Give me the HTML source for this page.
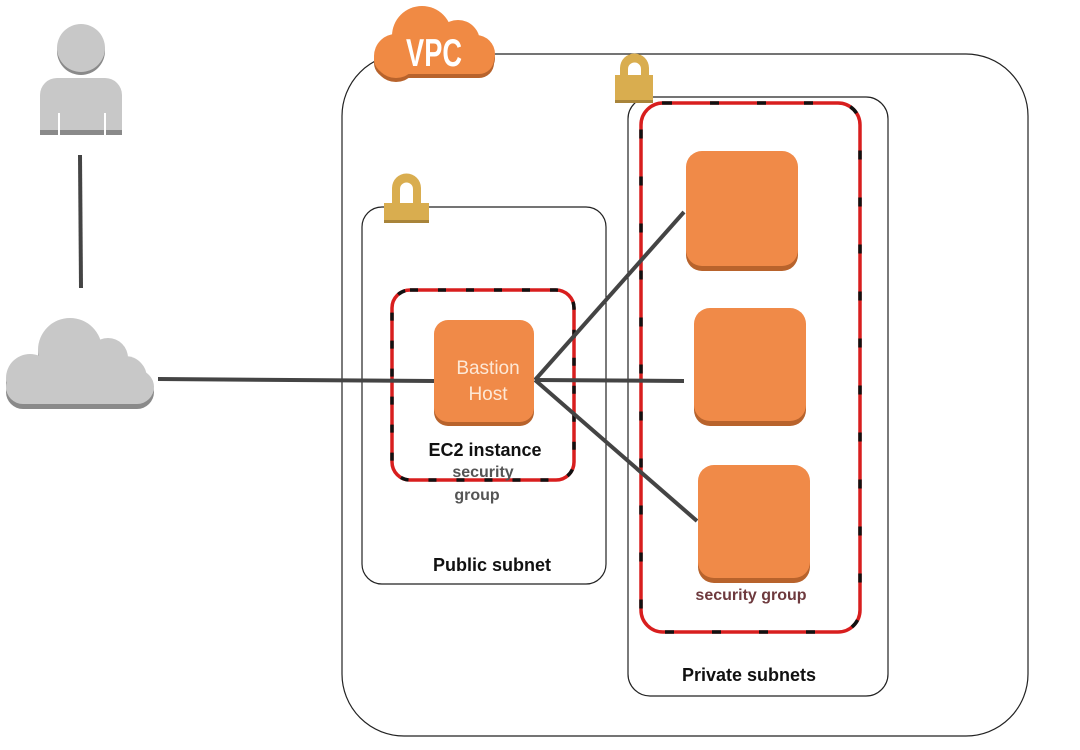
<!DOCTYPE html>
<html><head><meta charset="utf-8"><style>
html,body{margin:0;padding:0;background:#fff;width:1080px;height:750px;overflow:hidden}
svg{display:block}
text{font-family:"Liberation Sans",sans-serif}
</style></head><body>
<svg width="1080" height="750" viewBox="0 0 1080 750">
<!-- VPC box -->
<rect x="342" y="54" width="686" height="682" rx="62" fill="none" stroke="#222" stroke-width="1.2"/>
<!-- VPC cloud -->
<g>
<g fill="#b8632c" transform="translate(0,4)">
<circle cx="422" cy="36" r="30"/><circle cx="458" cy="42" r="22"/><circle cx="476" cy="54" r="19"/><circle cx="396" cy="56" r="22"/>
<rect x="374" y="44" width="120" height="30" rx="15"/></g>
<g fill="#f08a44">
<circle cx="422" cy="36" r="30"/><circle cx="458" cy="42" r="22"/><circle cx="476" cy="54" r="19"/><circle cx="396" cy="56" r="22"/>
<rect x="374" y="44" width="120" height="30" rx="15"/></g>
<text transform="translate(434,66) scale(0.8,1.15)" font-size="34" font-weight="bold" fill="#fff" text-anchor="middle">VPC</text>
</g>
<!-- Public subnet -->
<rect x="362" y="207" width="244" height="377" rx="20" fill="#fff" stroke="#222" stroke-width="1.2"/>
<!-- Private subnet -->
<rect x="628" y="97" width="260" height="599" rx="22" fill="#fff" stroke="#222" stroke-width="1.2"/>
<!-- locks -->
<g>
<path d="M392 206 V188 a14.5 14.5 0 0 1 29 0 V206 h-8 V189 a6.5 6.5 0 0 0 -13 0 V206z" fill="#d9ad4f"/>
<rect x="384" y="203" width="45" height="20" fill="#d9ad4f"/><rect x="384" y="220" width="45" height="3" fill="#a8843a"/>
</g>
<g>
<path d="M620 78 V68 a14.5 14.5 0 0 1 29 0 V78 h-8 V69 a6.5 6.5 0 0 0 -13 0 V78z" fill="#d9ad4f"/>
<rect x="615" y="75" width="38" height="28" fill="#d9ad4f"/><rect x="615" y="100" width="38" height="3" fill="#a8843a"/>
</g>
<!-- dashed security groups -->
<rect x="392" y="290" width="182" height="190" rx="18" fill="none" stroke="#d81e1e" stroke-width="3.5"/>
<rect x="392" y="290" width="182" height="190" rx="18" fill="none" stroke="#111" stroke-width="3.5" stroke-dasharray="8 20"/>
<rect x="641" y="103" width="219" height="529" rx="22" fill="none" stroke="#d81e1e" stroke-width="3.5"/>
<rect x="641" y="103" width="219" height="529" rx="22" fill="none" stroke="#111" stroke-width="3.5" stroke-dasharray="9 38"/>
<!-- lines -->
<g stroke="#444" stroke-width="4" stroke-linecap="butt" fill="none">
<line x1="80" y1="155" x2="81" y2="288"/>
<line x1="158" y1="379" x2="434" y2="381"/>
<line x1="535" y1="380" x2="684" y2="212"/>
<line x1="535" y1="380" x2="684" y2="381"/>
<line x1="535" y1="380" x2="697" y2="521"/>
</g>
<!-- orange boxes -->
<g>
<rect x="434" y="323" width="100" height="103" rx="14" fill="#b8632c"/>
<rect x="434" y="320" width="100" height="102" rx="14" fill="#f08a48"/>
<text x="488" y="374" font-size="19" fill="#fde8d6" text-anchor="middle">Bastion</text>
<text x="488" y="400" font-size="19" fill="#fde8d6" text-anchor="middle">Host</text>
<rect x="686" y="154" width="112" height="117" rx="16" fill="#b8632c"/>
<rect x="686" y="151" width="112" height="115" rx="16" fill="#f08a48"/>
<rect x="694" y="311" width="112" height="115" rx="16" fill="#b8632c"/>
<rect x="694" y="308" width="112" height="113" rx="16" fill="#f08a48"/>
<rect x="698" y="468" width="112" height="115" rx="16" fill="#b8632c"/>
<rect x="698" y="465" width="112" height="113" rx="16" fill="#f08a48"/>
</g>
<!-- texts -->
<text x="485" y="456" font-size="18" font-weight="bold" fill="#111" text-anchor="middle">EC2 instance</text>
<text x="483" y="477" font-size="16" font-weight="bold" fill="#555" text-anchor="middle">security</text>
<text x="477" y="500" font-size="16" font-weight="bold" fill="#555" text-anchor="middle">group</text>
<text x="492" y="571" font-size="18" font-weight="bold" fill="#111" text-anchor="middle">Public subnet</text>
<text x="751" y="600" font-size="16" font-weight="bold" fill="#6e3a3e" text-anchor="middle">security group</text>
<text x="749" y="681" font-size="18" font-weight="bold" fill="#111" text-anchor="middle">Private subnets</text>
<!-- user -->
<g>
<circle cx="81" cy="51" r="24" fill="#8a8a8a"/>
<circle cx="81" cy="48" r="24" fill="#c8c8c8"/>
<path d="M40 135 V95 a17 17 0 0 1 17 -17 h48 a17 17 0 0 1 17 17 V135z" fill="#c8c8c8"/>
<rect x="40" y="130" width="82" height="5" fill="#8a8a8a"/>
<rect x="58" y="113" width="2" height="22" fill="#fff"/><rect x="104" y="113" width="2" height="22" fill="#fff"/>
</g>
<!-- gray cloud -->
<g>
<g fill="#8a8a8a" transform="translate(0,5)">
<circle cx="70" cy="350" r="32"/><circle cx="108" cy="358" r="20"/><circle cx="125" cy="378" r="22"/><circle cx="30" cy="378" r="24"/>
<rect x="6" y="370" width="148" height="34" rx="17"/></g>
<g fill="#c8c8c8">
<circle cx="70" cy="350" r="32"/><circle cx="108" cy="358" r="20"/><circle cx="125" cy="378" r="22"/><circle cx="30" cy="378" r="24"/>
<rect x="6" y="370" width="148" height="34" rx="17"/></g>
</g>
</svg>
</body></html>
